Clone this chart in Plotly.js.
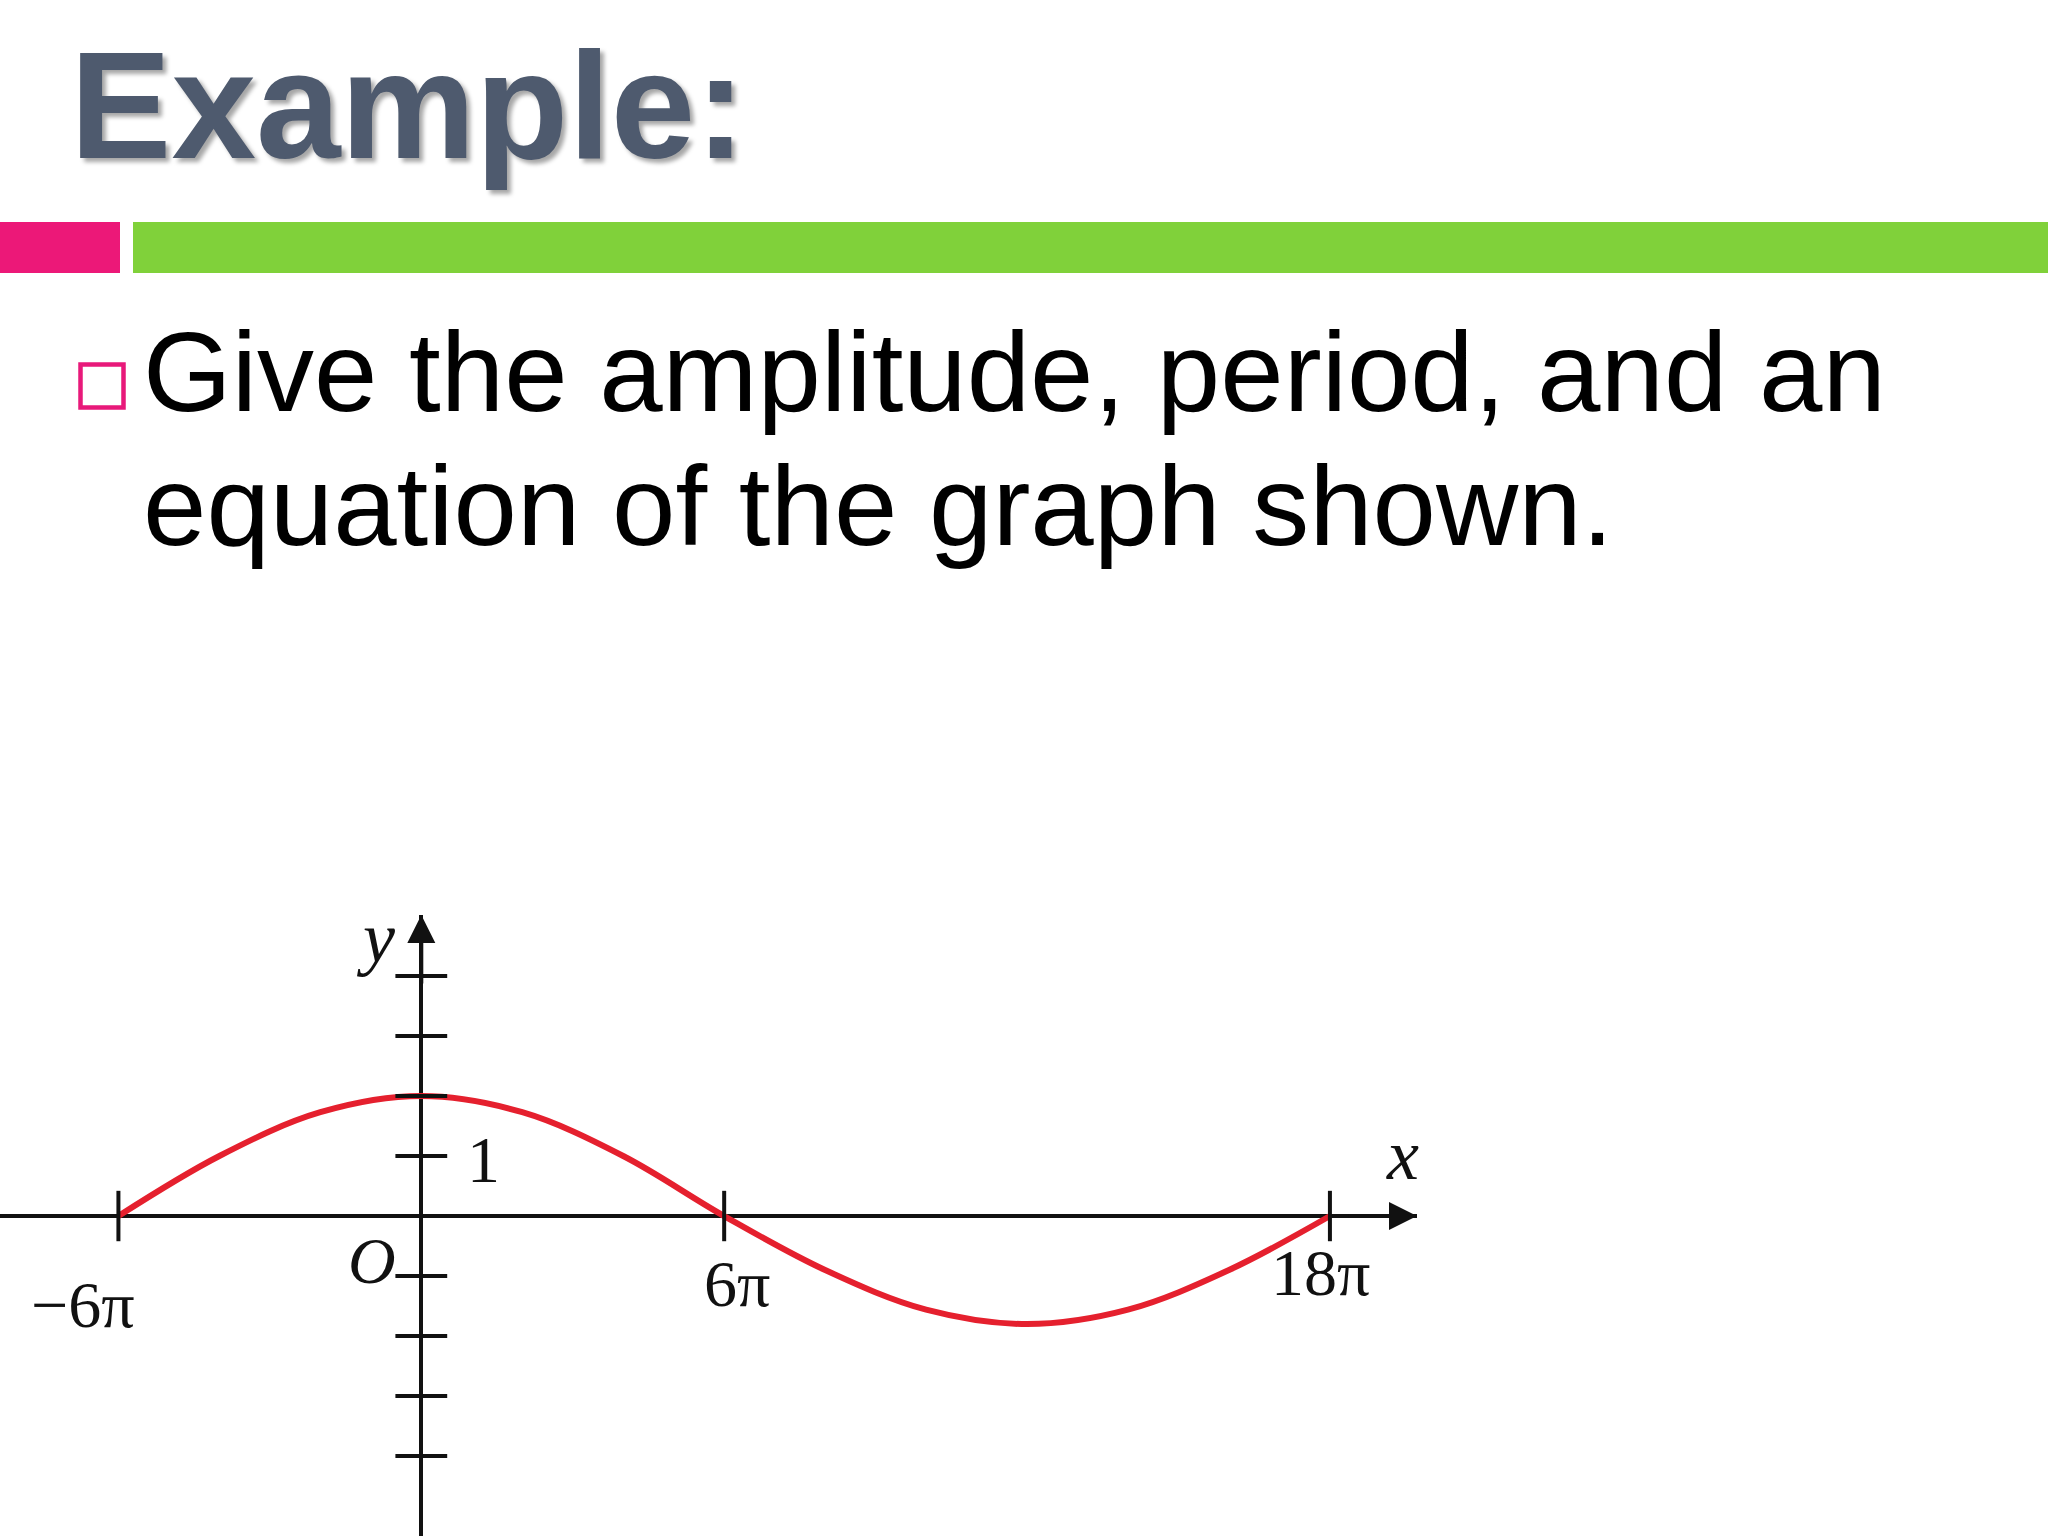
<!DOCTYPE html>
<html>
<head>
<meta charset="utf-8">
<script src="https://cdn.plot.ly/plotly-3.0.1.min.js"></script>
<style>html,body{margin:0;padding:0;background:#ffffff;}#chart{width:2048px;height:1536px;}</style>
</head>
<body>
<div id="chart"></div>
<script>
// ---------- data ----------
const titleText = 'Example:';
const bulletLines = ['Give the amplitude, period, and an', 'equation of the graph shown.'];
// curve sample points, x in multiples of π, y
const curveX = [-6, -4, -2, 0, 2, 4, 6, 8, 10, 12, 14, 16, 18];
const curveY = [0, 1.0, 1.73, 2.0, 1.73, 1.0, 0, -0.9, -1.56, -1.8, -1.56, -0.9, 0];
// x axis ticks (multiples of π)
const xTickVals = [-6, 6, 18];
const xTickText = ['\u22126\u03c0', '6\u03c0', '18\u03c0'];
// y axis ticks
const yTickVals = [-4, -3, -2, -1, 1, 2, 3, 4];
const yLabelVal = [1];
const yLabelText = ['1'];
const originText = 'O';
const xAxisName = 'x';
const yAxisName = 'y';

// ---------- styles / placement ----------
const W = 2048, H = 1536;
const px = v => v / W;
const py = v => 1 - v / H;
const sans = 'Liberation Sans, Arial, sans-serif';
const serif = 'Liberation Serif, Times New Roman, serif';
const ink = '#111111';
const xLabelShift = [[-35, -88], [13, -67], [-9, -56]];
const serifSize = 66;

const traces = [
  {
    x: curveX, y: curveY, type: 'scatter', mode: 'lines',
    line: {color: '#e5202e', width: 6, shape: 'spline', smoothing: 1},
    hoverinfo: 'skip'
  },
  {
    x: xTickVals, y: xTickVals.map(() => 0), type: 'scatter', mode: 'markers',
    marker: {symbol: 'line-ns', size: 36, color: ink, line: {color: ink, width: 4}},
    hoverinfo: 'skip'
  },
  {
    x: yTickVals.map(() => 0), y: yTickVals, type: 'scatter', mode: 'markers',
    marker: {symbol: 'line-ew', size: 37, color: ink, line: {color: ink, width: 4}},
    hoverinfo: 'skip'
  }
];

const annotations = [
  {
    xref: 'paper', yref: 'paper', x: px(68), y: py(105), xanchor: 'left', yanchor: 'middle',
    text: '<b>' + titleText + '</b>', showarrow: false,
    font: {family: sans, size: 152, color: '#4e5a6e', shadow: '4px 4px 4px rgba(0,0,0,0.35)'}
  },
  {
    xref: 'paper', yref: 'paper', x: px(141), y: py(371), xanchor: 'left', yanchor: 'middle',
    text: bulletLines[0], showarrow: false,
    font: {family: sans, size: 114, color: '#000000'}
  },
  {
    xref: 'paper', yref: 'paper', x: px(141), y: py(506), xanchor: 'left', yanchor: 'middle',
    text: bulletLines[1], showarrow: false,
    font: {family: sans, size: 114, color: '#000000'}
  },
  // axis arrows
  {
    xref: 'x domain', yref: 'y', x: 1, y: 0, ax: -70, ay: 0, text: '', showarrow: true,
    arrowhead: 2, arrowsize: 1.4, arrowwidth: 4, arrowcolor: ink, standoff: 0
  },
  {
    xref: 'x', yref: 'y domain', x: 0, y: 1, ax: 0, ay: 70, text: '', showarrow: true,
    arrowhead: 2, arrowsize: 1.4, arrowwidth: 4, arrowcolor: ink, standoff: 0
  },
  // axis names
  {
    xref: 'x domain', yref: 'y', x: 1, y: 0, xshift: -15, yshift: 61, xanchor: 'center', yanchor: 'middle',
    text: '<i>' + xAxisName + '</i>', showarrow: false, font: {family: serif, size: 72, color: ink}
  },
  {
    xref: 'x', yref: 'y domain', x: 0, y: 1, xshift: -46, yshift: -23, xanchor: 'center', yanchor: 'middle',
    text: '<i>' + yAxisName + '</i>', showarrow: false, font: {family: serif, size: 72, color: ink}
  },
  {
    xref: 'x', yref: 'y', x: 0, y: 0, xshift: -49, yshift: -44, xanchor: 'center', yanchor: 'middle',
    text: '<i>' + originText + '</i>', showarrow: false, font: {family: serif, size: serifSize, color: ink}
  }
];
xTickVals.forEach((v, i) => {
  annotations.push({
    xref: 'x', yref: 'y', x: v, y: 0, xshift: xLabelShift[i][0], yshift: xLabelShift[i][1],
    xanchor: 'center', yanchor: 'middle',
    text: xTickText[i], showarrow: false, font: {family: serif, size: serifSize, color: ink}
  });
});
yLabelVal.forEach((v, i) => {
  annotations.push({
    xref: 'x', yref: 'y', x: 0, y: v, xshift: 62, yshift: -3, xanchor: 'center', yanchor: 'middle',
    text: yLabelText[i], showarrow: false, font: {family: serif, size: serifSize, color: ink}
  });
});

const shapes = [
  {type: 'rect', xref: 'paper', yref: 'paper', x0: 0, x1: px(120), y0: py(273), y1: py(222),
   fillcolor: '#ec1878', line: {width: 0}, layer: 'below'},
  {type: 'rect', xref: 'paper', yref: 'paper', x0: px(133), x1: 1, y0: py(273), y1: py(222),
   fillcolor: '#80d13a', line: {width: 0}, layer: 'below'},
  {type: 'rect', xref: 'paper', yref: 'paper', x0: px(80.5), x1: px(123.5), y0: py(407.5), y1: py(364.5),
   fillcolor: 'rgba(0,0,0,0)', line: {color: '#e8197a', width: 4.5}, layer: 'above'}
];

const layout = {
  width: W, height: H,
  margin: {l: 0, r: 0, t: 0, b: 0},
  paper_bgcolor: '#ffffff', plot_bgcolor: 'rgba(0,0,0,0)',
  showlegend: false,
  xaxis: {
    domain: [0, 1417 / W], range: [-8.346, 19.725],
    showgrid: false, showticklabels: false, ticks: '', showline: false,
    zeroline: true, zerolinecolor: ink, zerolinewidth: 4, fixedrange: true
  },
  yaxis: {
    domain: [0, (H - 915) / H], range: [-5.333, 5.017],
    showgrid: false, showticklabels: false, ticks: '', showline: false,
    zeroline: true, zerolinecolor: ink, zerolinewidth: 4, fixedrange: true
  },
  annotations: annotations,
  shapes: shapes
};

Plotly.newPlot('chart', traces, layout, {displayModeBar: false, staticPlot: true});
</script>
</body>
</html>
